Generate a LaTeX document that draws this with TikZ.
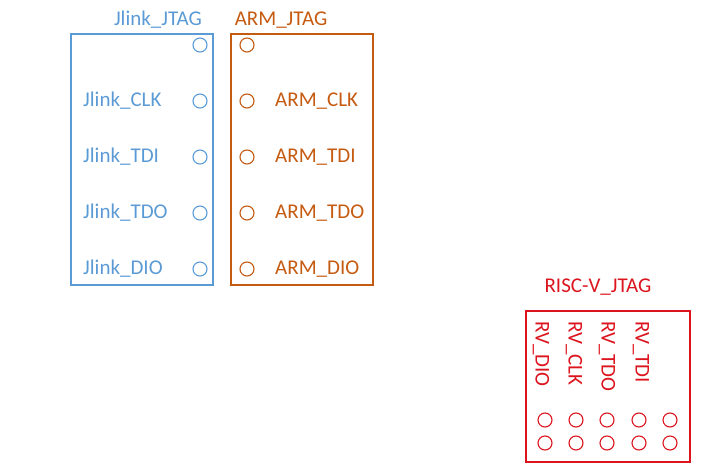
\documentclass[tikz,border=0pt]{standalone}
\usepackage{fontspec}
\setmainfont{Carlito}
\definecolor{jblue}{RGB}{91,155,213}
\definecolor{jorange}{RGB}{197,90,17}
\definecolor{jred}{RGB}{220,20,30}
\begin{document}
\begin{tikzpicture}[x=1pt,y=-1pt,
  pin/.style={draw,circle,inner sep=0,minimum size=14pt,line width=1.1pt},
  lbl/.style={inner sep=0,font=\fontsize{21}{24}\selectfont},
  box/.style={line width=1.2pt}]
  \useasboundingbox (0,0) rectangle (720,476);
  % Jlink connector
  \draw[box,jblue] (71,34) rectangle (213,285);
  \node[lbl,jblue] (jtitle) at (158,20) {Jlink\_JTAG};
  \foreach \y [count=\i] in {45,101,157,213,269}
    \node[pin,jblue] (j\i) at (200,\y) {};
  \foreach \t [count=\i from 2] in {CLK,TDI,TDO,DIO}
    \node[lbl,jblue,anchor=west] (jl\i) at (83,{45+56*(\i-1)}) {Jlink\_\t};
  % ARM connector
  \draw[box,jorange] (231,34) rectangle (373,285);
  \node[lbl,jorange] (atitle) at (281,20) {ARM\_JTAG};
  \foreach \y [count=\i] in {45,101,157,213,269}
    \node[pin,jorange] (a\i) at (247,\y) {};
  \foreach \t [count=\i from 2] in {CLK,TDI,TDO,DIO}
    \node[lbl,jorange,anchor=west] (al\i) at (275,{45+56*(\i-1)}) {ARM\_\t};
  % RISC-V connector
  \draw[box,jred] (526,311) rectangle (690,462);
  \node[lbl,jred] (rtitle) at (598,287) {RISC-V\_JTAG};
  \foreach \x [count=\i] in {545,576,607,639,670} {
    \node[pin,jred] (rt\i) at (\x,420) {};
    \node[pin,jred] (rb\i) at (\x,443) {};
  }
  \foreach \x/\t in {541/DIO,574/CLK,607/TDO,641/TDI}
    \node[lbl,jred,rotate=-90,anchor=west] (rv\t) at (\x,321) {RV\_\t};
\end{tikzpicture}
\end{document}
